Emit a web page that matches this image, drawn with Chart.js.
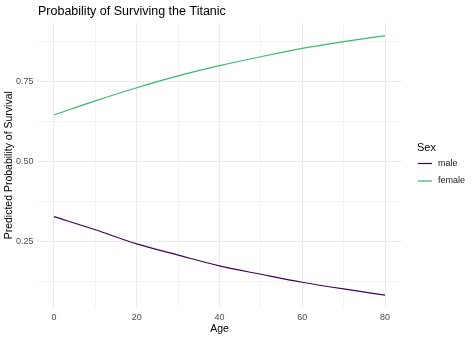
<!DOCTYPE html>
<html>
<head>
<meta charset="utf-8">
<script src="https://cdn.jsdelivr.net/npm/chart.js@4/dist/chart.umd.min.js"></script>
<style>
  html, body { margin: 0; padding: 0; background: #fff; }
  #wrap { width: 474px; height: 338px; }
</style>
</head>
<body>
<div id="wrap"><canvas id="chart" width="474" height="338"></canvas></div>
<script>
// values
const ages = [0, 10, 20, 30, 40, 50, 60, 70, 80];
const maleProb = [0.328, 0.287, 0.243, 0.208, 0.174, 0.148, 0.123, 0.102, 0.083];
const femaleProb = [0.646, 0.690, 0.731, 0.768, 0.800, 0.828, 0.854, 0.875, 0.894];
const xTicks = [0, 20, 40, 60, 80];
const yTicks = [0.25, 0.50, 0.75];
const seriesNames = ['male', 'female'];
const seriesColors = ['#440154', '#3fb772'];

const FONT = "'Liberation Sans', Arial, sans-serif";

function toPoints(ys) {
    return ages.map((a, i) => ({ x: a, y: ys[i] }));
}

// titre et legende dessines a la main (style ggplot)
const ggDecor = {
    id: 'ggDecor',
    afterDraw(chart) {
        const c = chart.ctx;
        c.save();
        c.fillStyle = '#000';
        c.font = '12.5px ' + FONT;
        c.textBaseline = 'alphabetic';
        c.textAlign = 'left';
        c.fillText('Probability of Surviving the Titanic', 38, 15);

        c.font = '11px ' + FONT;
        c.fillText('Sex', 417, 151);

        c.font = '9px ' + FONT;
        c.textBaseline = 'middle';
        seriesNames.forEach((name, i) => {
            const y = 163.5 + i * 17.5;
            c.strokeStyle = seriesColors[i];
            c.lineWidth = 1.2;
            c.beginPath();
            c.moveTo(418, y);
            c.lineTo(432, y);
            c.stroke();
            c.fillStyle = '#1a1a1a';
            c.fillText(name, 438, y);
        });
        c.restore();
    }
};

const ctx = document.getElementById('chart').getContext('2d');
const chart = new Chart(ctx, {
    type: 'line',
    data: {
        datasets: [
            {
                label: seriesNames[0],
                data: toPoints(maleProb),
                borderColor: seriesColors[0],
                borderWidth: 1.2,
                pointRadius: 0,
                cubicInterpolationMode: 'monotone',
                fill: false
            },
            {
                label: seriesNames[1],
                data: toPoints(femaleProb),
                borderColor: seriesColors[1],
                borderWidth: 1.2,
                pointRadius: 0,
                cubicInterpolationMode: 'monotone',
                fill: false
            }
        ]
    },
    options: {
        responsive: false,
        animation: false,
        devicePixelRatio: 1,
        layout: { padding: { top: 22.5, right: 72.4, left: 0, bottom: 0 } },
        plugins: {
            legend: { display: false },
            title: { display: false },
            tooltip: { enabled: false }
        },
        scales: {
            x: {
                type: 'linear',
                min: -4,
                max: 84,
                border: { display: false },
                grid: {
                    drawTicks: false,
                    color: '#ebebeb',
                    lineWidth: (c) => (c.tick && c.tick.value % 20 === 0) ? 1 : 0.6
                },
                afterBuildTicks(scale) {
                    scale.ticks = [];
                    for (let v = 0; v <= 80; v += 10) scale.ticks.push({ value: v });
                },
                afterFit(scale) { scale.height = 30; },
                ticks: {
                    padding: 4,
                    color: '#4d4d4d',
                    font: { family: FONT, size: 9 },
                    maxRotation: 0,
                    autoSkip: false,
                    callback: (v) => xTicks.includes(v) ? String(v) : ''
                },
                title: {
                    display: true,
                    text: 'Age',
                    color: '#000',
                    font: { family: FONT, size: 10.5 },
                    padding: { top: 0, bottom: 3 }
                }
            },
            y: {
                min: 0.0425,
                max: 0.935,
                border: { display: false },
                grid: {
                    drawTicks: false,
                    color: '#ebebeb',
                    lineWidth: (c) => (c.tick && yTicks.some(t => Math.abs(t - c.tick.value) < 1e-6)) ? 1 : 0.6
                },
                afterBuildTicks(scale) {
                    scale.ticks = [];
                    for (let v = 0.125; v < 0.9; v += 0.125) scale.ticks.push({ value: v });
                },
                afterFit(scale) { scale.width = 37.4; },
                ticks: {
                    padding: 4,
                    color: '#4d4d4d',
                    font: { family: FONT, size: 9 },
                    autoSkip: false,
                    callback: (v) => yTicks.some(t => Math.abs(t - v) < 1e-6) ? v.toFixed(2) : ''
                },
                title: {
                    display: true,
                    text: 'Predicted Probability of Survival',
                    color: '#000',
                    font: { family: FONT, size: 10.5 },
                    padding: { top: 3, bottom: 0 }
                }
            }
        }
    },
    plugins: [ggDecor]
});
</script>
</body>
</html>
